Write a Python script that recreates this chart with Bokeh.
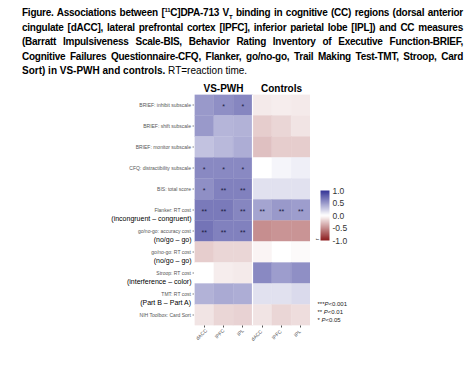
import numpy as np
from bokeh.plotting import figure
from bokeh.models import (FactorRange, Range1d, ColumnDataSource, LinearColorMapper, ColorBar,
                          FixedTicker, PrintfTickFormatter, Label, LabelSet, Div)
from bokeh.core.properties import value
from bokeh.transform import dodge
from bokeh.layouts import column, row
from bokeh.embed import file_html
from bokeh.resources import INLINE

# ---------------- data ----------------
groups = ["VS-PWH", "Controls"]
regions = ["dACC", "lPFC", "IPL"]
measures = ["BRIEF: inhibit subscale", "BRIEF: shift subscale", "BRIEF: monitor subscale",
            "CFQ: distractibility subscale", "BIS: total score", "Flanker: RT cost",
            "go/no-go: accuracy cost", "go/no-go: RT cost", "Stroop: RT cost", "TMT: RT cost",
            "NIH Toolbox: Card Sort"]
second_line_measures = ["Flanker: RT cost", "go/no-go: accuracy cost", "go/no-go: RT cost",
                        "Stroop: RT cost", "TMT: RT cost"]
second_lines = ["(incongruent \u2013 congruent)", "(no/go \u2013 go)", "(no/go \u2013 go)",
                "(interference \u2013 color)", "(Part B \u2013 Part A)"]
# correlation r (rows = measures; columns = dACC, lPFC, IPL)
vs_r = [[0.50, 0.55, 0.60], [0.50, 0.36, 0.38], [0.30, 0.35, 0.40], [0.58, 0.58, 0.58],
        [0.55, 0.62, 0.62], [0.65, 0.65, 0.60], [0.68, 0.62, 0.62], [-0.22, -0.18, -0.18],
        [0.00, -0.08, -0.10], [0.38, 0.42, 0.40], [-0.12, -0.18, -0.20]]
ctrl_r = [[-0.10, -0.08, -0.10], [-0.22, -0.18, -0.12], [-0.28, -0.22, -0.22], [0.00, 0.05, 0.08],
          [0.15, 0.15, 0.15], [0.45, 0.50, 0.48], [-0.50, -0.47, -0.47], [-0.05, 0.00, -0.03],
          [0.58, 0.48, 0.55], [0.15, 0.15, 0.18], [-0.12, -0.18, -0.15]]
vs_sig = [["", "*", "*"], ["", "", ""], ["", "", ""], ["*", "*", "*"], ["*", "**", "**"],
          ["**", "**", "**"], ["**", "**", "**"], ["", "", ""], ["", "", ""], ["", "", ""], ["", "", ""]]
ctrl_sig = [["", "", ""], ["", "", ""], ["", "", ""], ["", "", ""], ["", "", ""],
            ["**", "**", "**"], ["", "", ""], ["", "", ""], ["", "", ""], ["", "", ""], ["", "", ""]]
cbar_ticks = [-1.0, -0.5, 0.0, 0.5, 1.0]
sig_legend = [("***", "P", "<0.001"), ("** ", "P", "<0.01"), ("* ", "P", "<0.05")]

FONT = "Liberation Sans"

# ---------------- palette ----------------
low_c = np.array([140, 28, 30]); mid_c = np.array([255, 255, 255]); high_c = np.array([52, 52, 150])
def hexc(c):
    c = np.clip(np.round(c), 0, 255).astype(int)
    return "#%02x%02x%02x" % tuple(c)
palette = [hexc(low_c + (mid_c - low_c) * t) for t in np.linspace(0, 1, 128)] + \
          [hexc(mid_c + (high_c - mid_c) * t) for t in np.linspace(0, 1, 128)]
mapper = LinearColorMapper(palette=palette, low=-1, high=1)

# column factors: same visible names for both groups (trailing space keeps them unique)
col_factors = [[r + " " * gi for r in regions] for gi in range(len(groups))]

# ---------------- heatmap figure ----------------
xs, ys, rs, sg = [], [], [], []
for gi, (gr, gs) in enumerate([(vs_r, vs_sig), (ctrl_r, ctrl_sig)]):
    for mi, m in enumerate(measures):
        for ri in range(len(regions)):
            xs.append(col_factors[gi][ri]); ys.append(m); rs.append(gr[mi][ri]); sg.append(gs[mi][ri])
src = ColumnDataSource(dict(x=xs, y=ys, r=rs, sig=sg))

x_range = FactorRange(*[f for fs in col_factors for f in fs], range_padding=0)
y_range = FactorRange(*list(reversed(measures)), range_padding=0)

heat = figure(width=116, height=271, x_range=x_range, y_range=y_range, output_backend="svg",
              toolbar_location=None, min_border_left=0, min_border_right=0,
              min_border_top=0, min_border_bottom=40, y_axis_location=None)
heat.outline_line_color = None
heat.grid.grid_line_color = None
heat.rect(x="x", y="y", width=1, height=1, source=src,
          fill_color={"field": "r", "transform": mapper},
          line_color={"field": "r", "transform": mapper}, line_width=0.3)
# thin white separation at the boundary between the two groups
sep_src = ColumnDataSource(dict(x=[col_factors[1][0]]))
heat.vspan(x=dodge("x", -0.5, range=x_range), source=sep_src, line_color="white", line_width=1.2)
heat.add_layout(LabelSet(x="x", y="y", text="sig", source=src, text_align="center",
                         text_baseline="middle", text_font_size="7px", text_color="#1b1b40",
                         y_offset=-1.5, text_font=value(FONT)))
ax = heat.xaxis[0]
ax.axis_line_color = None
ax.major_tick_line_color = "#555555"
ax.major_tick_in = 0
ax.major_tick_out = 2
ax.major_label_text_color = "#555555"
ax.major_label_text_font = FONT
ax.major_label_text_font_size = "5px"
ax.major_label_standoff = 2
ax.major_label_orientation = np.pi / 4

# ---------------- header figure ----------------
head = figure(width=116, height=14, x_range=x_range, y_range=Range1d(0, 1), output_backend="svg",
              toolbar_location=None, min_border_left=0, min_border_right=0, min_border_top=0,
              min_border_bottom=0, x_axis_location=None, y_axis_location=None)
head.outline_line_color = None
head.grid.visible = False
hd_src = ColumnDataSource(dict(x=[col_factors[gi][1] for gi in range(len(groups))],
                               y=[0.42] * len(groups), t=groups))
head.add_layout(LabelSet(x="x", y="y", text="t", source=hd_src, text_align="center",
                         text_baseline="middle", text_font_size="10px", text_font_style="bold",
                         text_color="black", text_font=value(FONT)))

# ---------------- left label figure ----------------
left = figure(width=194, height=285, x_range=Range1d(0, 1), y_range=y_range, output_backend="svg",
              toolbar_location=None, min_border_left=0, min_border_right=0, min_border_top=14,
              min_border_bottom=40, x_axis_location=None, y_axis_location=None)
left.outline_line_color = None
left.grid.visible = False
tick_src = ColumnDataSource(dict(x=[1.0] * len(measures), y=measures, t=measures))
left.scatter(x="x", y="y", source=tick_src, marker="dash", size=4, line_color="#666666",
             line_width=0.8)
left.add_layout(LabelSet(x="x", y="y", text="t", source=tick_src, text_align="right",
                         text_baseline="middle", text_font_size="5px", text_color="#555555",
                         text_font=value(FONT), x_offset=-3.5))
sl_src = ColumnDataSource(dict(x=[1.0] * len(second_lines), y=second_line_measures, t=second_lines))
left.add_layout(LabelSet(x="x", y="y", text="t", source=sl_src, text_align="right",
                         text_baseline="middle", text_font_size="7px", text_color="black",
                         text_font=value(FONT), x_offset=-3, y_offset=-8))

# ---------------- right legend figure ----------------
right = figure(width=156, height=285, x_range=Range1d(0, 156), y_range=Range1d(0, 285),
               output_backend="svg", toolbar_location=None, min_border_left=0,
               min_border_right=0, min_border_top=14, min_border_bottom=40,
               x_axis_location=None, y_axis_location=None)
right.outline_line_color = None
right.grid.visible = False
cb = ColorBar(color_mapper=mapper, ticker=FixedTicker(ticks=cbar_ticks),
              formatter=PrintfTickFormatter(format="%.1f"),
              width=9, height=50, title="r", title_text_font_size="6px",
              title_text_font_style="normal", title_text_color="#333333", title_standoff=2,
              major_label_text_font_size="8.5px", major_label_text_color="#333333",
              major_label_text_font=FONT, label_standoff=3, major_tick_line_color=None,
              bar_line_color=None, background_fill_color=None, border_line_color=None,
              padding=0, location=(0, 85))
right.add_layout(cb)
for i, (st, pp, rest) in enumerate(sig_legend):
    yy = 22 - i * 8
    w = 7 if i == 0 else (6.3 if i == 1 else 4)
    right.add_layout(Label(x=7, y=yy, x_units="screen", y_units="screen", text=st,
                           text_font_size="6px", text_font=FONT, text_baseline="middle",
                           text_color="#222222"))
    right.add_layout(Label(x=7 + w, y=yy, x_units="screen", y_units="screen", text=pp,
                           text_font_size="6px", text_font=FONT, text_font_style="italic",
                           text_baseline="middle", text_color="#222222"))
    right.add_layout(Label(x=7 + w + 4, y=yy, x_units="screen", y_units="screen", text=rest,
                           text_font_size="6px", text_font=FONT, text_baseline="middle",
                           text_color="#222222"))

# ---------------- caption ----------------
sup = '<sup style="font-size:6px;line-height:0">11</sup>'
sub = '<sub style="font-size:6px;line-height:0">T</sub>'
jl = ('style="text-align:justify;text-align-last:justify;font-weight:bold;'
      'white-space:nowrap;letter-spacing:-0.25px;"')
caption = (
    '<div style="font-family:\'Liberation Sans\',Arial,sans-serif;font-size:10px;'
    'line-height:14.5px;color:#000;width:441px;margin-left:22px;padding-top:6px;">'
    f'<div {jl}>Figure. Associations between [{sup}C]DPA-713 V{sub} binding in cognitive (CC) regions (dorsal anterior</div>'
    f'<div {jl}>cingulate [dACC], lateral prefrontal cortex [lPFC], inferior parietal lobe [IPL]) and CC measures</div>'
    f'<div {jl}>(Barratt Impulsiveness Scale-BIS, Behavior Rating Inventory of Executive Function-BRIEF,</div>'
    f'<div {jl}>Cognitive Failures Questionnaire-CFQ, Flanker, go/no-go, Trail Making Test-TMT, Stroop, Card</div>'
    '<div><b>Sort) in VS-PWH and controls.</b> RT=reaction time.</div></div>')
div = Div(text=caption, width=466, height=80, margin=(0, 0, 0, 0))

layout = column(div, row(left, column(head, heat, spacing=0), right, spacing=0), spacing=0)
open("out.html", "w").write(file_html(layout, INLINE))
